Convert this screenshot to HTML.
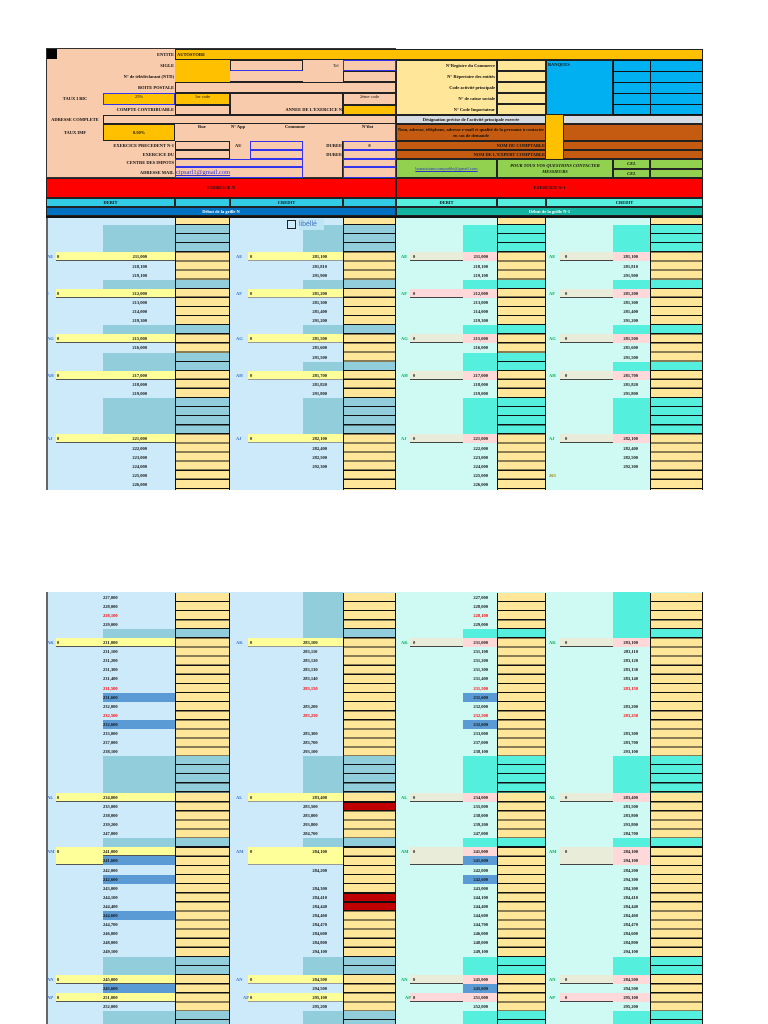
<!DOCTYPE html>
<html><head><meta charset="utf-8"><style>
body{margin:0;background:#fff}
#p{position:relative;width:768px;height:1024px;overflow:hidden;font-family:"Liberation Serif",serif;font-weight:bold;font-size:4.5px;color:#111}
.a{position:absolute;box-sizing:border-box}
.bx{border:1px solid #222}
.bb{border:1px solid #3333ee}
.r{position:absolute;left:0;width:768px;height:9.1px;line-height:9.1px}
.r>*{position:absolute;top:0;height:9.1px;font-style:normal;box-sizing:border-box}
.o{background:repeating-linear-gradient(#ffe699 0 7.9px,#111 7.9px 9.1px);border-left:1.5px solid #111;border-right:1.5px solid #111}
.n1{left:100px;width:47px;text-align:right}
.n2{left:290px;width:37px;text-align:right}
.n3{left:450px;width:38px;text-align:right}
.n4{left:600px;width:38px;text-align:right}
.m1{left:103px}.m2{left:303px}
.L1{left:47px;color:#4472c4}.z1{left:57px}
.L2{left:236px;color:#4472c4}.z2{left:250px}
.L3{left:401px;color:#00b050}.z3{left:413px}
.L4{left:549px;color:#00b050}.z4{left:565px}
.Y1{left:56px;width:119px;background:#ffff99;border-bottom:1px solid #555}
.Y2{left:248px;width:95px;background:#ffff99;border-bottom:1px solid #999}
.B3{left:410px;width:53px;background:#e8ecd8;border-bottom:1px solid #444}
.P3{left:463px;width:34px;background:#ffd9d9}
.B4{left:560px;width:53px;background:#e8ecd8;border-bottom:1px solid #444}
.P4{left:613px;width:37px;background:#ffd9d9}
.g1,.g2{background:#92cddc}
.t1,.t2{background:#55f0dd}
.g1{left:103px;width:72px}.g2{left:303px;width:40px}
.t1{left:463px;width:34px}.t2{left:613px;width:37px}
.g1::after,.g2::after,.t1::after,.t2::after{content:"";position:absolute;top:0;height:100%;box-sizing:border-box;border-left:1.5px solid #111;border-right:1.5px solid #111}
.g1::after,.g2::after{background:repeating-linear-gradient(#92cddc 0 7.9px,#111 7.9px 9.1px)}
.t1::after,.t2::after{background:repeating-linear-gradient(#55f0dd 0 7.9px,#111 7.9px 9.1px)}
.g1::after{left:72px;width:55px}.g2::after{left:40px;width:53px}
.t1::after{left:34px;width:49px}.t2::after{left:37px;width:53px}
.bl{left:103px;width:72px;background:#5b9bd5}
.bl3{left:463px;width:34px;background:#5b9bd5}
.rd{left:343px;width:53px;background:#c00000;border:1px solid #111}
.red{color:#f00}
.c{text-align:center}.rt{text-align:right}
</style></head><body><div id="p">

<!-- HEADER LEFT -->
<div class="a" style="left:46px;top:48px;width:350px;height:130px;background:#f8cbad;border:1px solid #333"></div>
<div class="a" style="left:47px;top:49px;width:10px;height:10px;background:#000"></div>
<div class="a rt" style="left:60px;top:49px;width:114px;line-height:11px">ENTITE</div>
<div class="a bx" style="left:175px;top:49px;width:528px;height:11px;background:#ffc000;line-height:10px;padding-left:1px">AUTOSTORE</div>
<div class="a rt" style="left:60px;top:60px;width:114px;line-height:11px">SIGLE</div>
<div class="a" style="left:175px;top:60px;width:55px;height:22px;background:#ffc000"></div>
<div class="a bx" style="left:230px;top:60px;width:73px;height:11px;border-bottom-color:#33e"></div>
<div class="a" style="left:333px;top:60px;line-height:11px;font-weight:normal">Tel</div>
<div class="a bb" style="left:343px;top:60px;width:53px;height:11px"></div>
<div class="a rt" style="left:60px;top:71px;width:114px;line-height:11px">N° de télédéclarant (NTD)</div>
<div class="a bx" style="left:230px;top:71px;width:73px;height:11px;border-width:0 0 1px 0"></div>
<div class="a bx" style="left:343px;top:71px;width:53px;height:11px"></div>
<div class="a rt" style="left:60px;top:82px;width:114px;line-height:11px">BOITE POSTALE</div>
<div class="a bx" style="left:175px;top:82px;width:221px;height:11px"></div>
<div class="a c" style="left:47px;top:93px;width:56px;line-height:12px">TAUX I BIC</div>
<div class="a bb c" style="left:103px;top:93px;width:72px;height:12px;background:#ffc000;font-weight:normal">25%</div>
<div class="a bx c" style="left:175px;top:93px;width:55px;height:12px;background:#ffc000;font-weight:normal">1er code</div>
<div class="a bx" style="left:230px;top:93px;width:113px;height:22px"></div>
<div class="a bx c" style="left:343px;top:93px;width:53px;height:12px;font-weight:normal">2ème code</div>
<div class="a rt" style="left:60px;top:105px;width:114px;line-height:10px">COMPTE CONTRIBUABLE</div>
<div class="a bx" style="left:175px;top:105px;width:55px;height:10px"></div>
<div class="a rt" style="left:240px;top:105px;width:102px;line-height:10px">ANNEE DE L'EXERCICE N</div>
<div class="a bx" style="left:343px;top:105px;width:53px;height:10px;background:#ffc000"></div>
<div class="a c" style="left:47px;top:115px;width:56px;line-height:9px">ADRESSE COMPLETE</div>
<div class="a bx" style="left:103px;top:115px;width:293px;height:9px"></div>
<div class="a c" style="left:47px;top:124px;width:56px;line-height:17px">TAUX IMF</div>
<div class="a bx c" style="left:103px;top:124px;width:72px;height:17px;background:#ffc000;line-height:15px">0.50%</div>
<div class="a" style="left:198px;top:124px">Rue</div>
<div class="a" style="left:231px;top:124px">N° App</div>
<div class="a" style="left:285px;top:124px">Commune</div>
<div class="a" style="left:362px;top:124px">N°ilot</div>
<div class="a rt" style="left:60px;top:141px;width:114px;line-height:9px">EXERCICE PRECEDENT N-1</div>
<div class="a bx" style="left:175px;top:141px;width:55px;height:9px"></div>
<div class="a" style="left:235px;top:141px;line-height:9px">AU</div>
<div class="a bb" style="left:250px;top:141px;width:53px;height:9px"></div>
<div class="a rt" style="left:300px;top:141px;width:42px;line-height:9px">DUREE</div>
<div class="a bb c" style="left:343px;top:141px;width:53px;height:9px;line-height:7px">0</div>
<div class="a rt" style="left:60px;top:150px;width:114px;line-height:9px">EXERCICE DU</div>
<div class="a bx" style="left:175px;top:150px;width:55px;height:9px"></div>
<div class="a bb" style="left:250px;top:150px;width:53px;height:9px"></div>
<div class="a rt" style="left:300px;top:150px;width:42px;line-height:9px">DUREE</div>
<div class="a bb" style="left:343px;top:150px;width:53px;height:9px"></div>
<div class="a rt" style="left:60px;top:159px;width:114px;line-height:8px">CENTRE DES IMPOTS</div>
<div class="a bb" style="left:175px;top:159px;width:128px;height:8px"></div>
<div class="a bb" style="left:343px;top:159px;width:53px;height:8px"></div>
<div class="a rt" style="left:60px;top:167px;width:114px;line-height:11px">ADRESSE MAIL</div>
<div class="a bb" style="left:175px;top:167px;width:128px;height:11px;font-family:'Liberation Serif',serif;font-weight:normal;font-size:6.5px;color:#3333cc;line-height:9px"><u>cipsarl1@gmail.com</u></div>
<div class="a bb" style="left:343px;top:167px;width:53px;height:11px"></div>
<div class="a bx" style="left:303px;top:141px;width:40px;height:37px;border-width:0 1px 0 0"></div>

<!-- HEADER RIGHT -->
<div class="a bx" style="left:396px;top:60px;width:101px;height:55px;background:#ffe699"></div>
<div class="a rt" style="left:398px;top:60px;width:97px;line-height:11px">N°Registre du Commerce</div>
<div class="a rt" style="left:398px;top:71px;width:97px;line-height:11px">N° Répertoire des entités</div>
<div class="a rt" style="left:398px;top:82px;width:97px;line-height:11px">Code activité principale</div>
<div class="a rt" style="left:398px;top:93px;width:97px;line-height:11px">N° de caisse sociale</div>
<div class="a rt" style="left:398px;top:104px;width:97px;line-height:11px">N° Code Importateur</div>
<div class="a bx" style="left:497px;top:60px;width:49px;height:11px;background:#ffe699"></div>
<div class="a bx" style="left:497px;top:71px;width:49px;height:11px;background:#ffe699"></div>
<div class="a bx" style="left:497px;top:82px;width:49px;height:11px;background:#ffe699"></div>
<div class="a bx" style="left:497px;top:93px;width:49px;height:11px;background:#ffe699"></div>
<div class="a bx" style="left:497px;top:104px;width:49px;height:11px;background:#ffe699"></div>
<div class="a bx" style="left:546px;top:60px;width:67px;height:55px;background:#00b0f0;padding:1px">BANQUES</div>
<div class="a" style="left:613px;top:60px;width:90px;height:55px;background:repeating-linear-gradient(#00b0f0 0 10px,#111 10px 11px);border:1px solid #111"></div>
<div class="a" style="left:650px;top:60px;width:1px;height:55px;background:#111"></div>
<div class="a bx c" style="left:396px;top:115px;width:150px;height:9px;background:#d6dce4;line-height:8px">Désignation précise de l'activité principale exercée</div>
<div class="a" style="left:546px;top:115px;width:17px;height:44px;background:#ffc000"></div>
<div class="a bx" style="left:563px;top:115px;width:140px;height:9px;background:#d6dce4"></div>
<div class="a bx c" style="left:396px;top:124px;width:150px;height:17px;background:#c55a11;line-height:6px;padding-top:2px">Nom, adresse, téléphone, adresse e-mail et qualité de la personne à contacter en cas de demande</div>
<div class="a bx" style="left:563px;top:124px;width:140px;height:17px;background:#c55a11"></div>
<div class="a bx rt" style="left:396px;top:141px;width:150px;height:9px;background:#c55a11;line-height:8px">NOM DU COMPTABLE</div>
<div class="a bx" style="left:563px;top:141px;width:140px;height:9px;background:#c55a11"></div>
<div class="a bx rt" style="left:396px;top:150px;width:150px;height:9px;background:#c55a11;line-height:8px">NOM DE L'EXPERT COMPTABLE</div>
<div class="a bx" style="left:563px;top:150px;width:140px;height:9px;background:#c55a11"></div>
<div class="a bx c" style="left:396px;top:159px;width:101px;height:19px;background:#92d050;font-weight:normal;color:#3333cc;line-height:17px"><u>bonasistantcomptable@gmail.com</u></div>
<div class="a bx c" style="left:497px;top:159px;width:116px;height:19px;background:#92d050;font-style:italic;line-height:6px;padding-top:3px">POUR TOUS VOS QUESTIONS CONTACTER MESSIEURS</div>
<div class="a bx c" style="left:613px;top:159px;width:37px;height:10px;background:#92d050;font-style:italic;line-height:8px">CEL</div>
<div class="a bx c" style="left:613px;top:169px;width:37px;height:9px;background:#92d050;font-style:italic;line-height:8px">CEL</div>
<div class="a bx" style="left:650px;top:159px;width:53px;height:10px;background:#92d050"></div>
<div class="a bx" style="left:650px;top:169px;width:53px;height:9px;background:#92d050"></div>

<div class="a bx c" style="left:46px;top:178px;width:350px;height:20px;background:#f00;line-height:18px">EXERCICE N</div>
<div class="a bx c" style="left:396px;top:178px;width:307px;height:20px;background:#f00;line-height:18px">EXERCICE N-1</div>
<div class="a bx c" style="left:46px;top:198px;width:129px;height:9px;background:#33cce6;line-height:8px">DEBIT</div>
<div class="a bx" style="left:175px;top:198px;width:55px;height:9px;background:#33cce6"></div>
<div class="a bx c" style="left:230px;top:198px;width:113px;height:9px;background:#33cce6;line-height:8px">CREDIT</div>
<div class="a bx" style="left:343px;top:198px;width:53px;height:9px;background:#33cce6"></div>
<div class="a bx c" style="left:396px;top:198px;width:101px;height:9px;background:#55f0e0;line-height:8px">DEBIT</div>
<div class="a bx" style="left:497px;top:198px;width:49px;height:9px;background:#55f0e0"></div>
<div class="a bx c" style="left:546px;top:198px;width:157px;height:9px;background:#55f0e0;line-height:8px">CREDIT</div>
<div class="a bx c" style="left:46px;top:207px;width:350px;height:9px;background:#0070c0;color:#fff;line-height:8px">Début de la grille N</div>
<div class="a bx c" style="left:396px;top:207px;width:307px;height:9px;background:#12b3a0;color:#fff;line-height:8px">Début de la grille N-1</div>

<!-- PAGE 1 GRID BACKGROUND -->
<div class="a" style="left:46px;top:216px;width:350px;height:274px;background:#cdeafb;border-left:2px solid #666"></div>
<div class="a" style="left:396px;top:216px;width:307px;height:274px;background:#cffaf3;border-right:1px solid #444"></div>
<div class="a o" style="left:175px;top:216px;width:55px;height:274px"></div>
<div class="a o" style="left:343px;top:216px;width:53px;height:274px"></div>
<div class="a o" style="left:497px;top:216px;width:49px;height:274px"></div>
<div class="a o" style="left:650px;top:216px;width:53px;height:274px"></div>
<div class="a" style="left:46px;top:216px;width:657px;height:1.5px;background:#111"></div>

<!-- page1 gray rows -->
<div class="r" style="top:225.1px;height:27.3px"><i class="g1" style="height:27.3px"></i><i class="g2" style="height:27.3px"></i><i class="t1" style="height:27.3px"></i><i class="t2" style="height:27.3px"></i></div>
<div class="r" style="top:279.7px"><i class="g1"></i><i class="g2"></i><i class="t1"></i><i class="t2"></i></div>
<div class="r" style="top:325.2px"><i class="g1"></i><i class="g2"></i><i class="t1"></i><i class="t2"></i></div>
<div class="r" style="top:352.5px;height:18.2px"><i class="g1" style="height:18.2px"></i><i class="g2" style="top:9.1px"></i><i class="t1" style="height:18.2px"></i><i class="t2" style="top:9.1px"></i></div>
<div class="r" style="top:398px;height:36.4px"><i class="g1" style="height:36.4px"></i><i class="g2" style="height:36.4px"></i><i class="t1" style="height:36.4px"></i><i class="t2" style="height:36.4px"></i></div>
<div class="a bx" style="left:287px;top:220px;width:9px;height:9px;border-color:#222;border-width:1.5px"></div>
<div class="a" style="left:299px;top:219px;width:25px;height:11px;background:#bde6f4;font-family:'Liberation Sans',sans-serif;font-weight:normal;font-size:7px;color:#4472c4;line-height:11px">libéllé</div>

<!-- page1 rows -->
<div class="r" style="top:252.4px"><i class="Y1"></i><i class="Y2"></i><i class="B3"></i><i class="P3"></i><i class="B4"></i><i class="P4"></i><span class="L1">AE</span><span class="z1">0</span><span class="n1">211,000</span><span class="L2">AE</span><span class="z2">0</span><span class="n2">281,100</span><span class="L3">AE</span><span class="z3">0</span><span class="n3">211,000</span><span class="L4">AE</span><span class="z4">0</span><span class="n4">281,100</span></div>
<div class="r" style="top:261.5px"><span class="n1">218,100</span><span class="n2">281,810</span><span class="n3">218,100</span><span class="n4">281,810</span></div>
<div class="r" style="top:270.6px"><span class="n1">219,100</span><span class="n2">291,900</span><span class="n3">219,100</span><span class="n4">291,900</span></div>
<div class="r" style="top:288.8px"><i class="Y1"></i><i class="Y2"></i><i class="B3" style="background:#ffd9d9"></i><i class="P3"></i><i class="B4"></i><i class="P4"></i><span class="L1">I</span><span class="z1">0</span><span class="n1">212,000</span><span class="L2">AF</span><span class="z2">0</span><span class="n2">281,200</span><span class="L3">AF</span><span class="z3">0</span><span class="n3">212,000</span><span class="L4">AF</span><span class="z4">0</span><span class="n4">281,200</span></div>
<div class="r" style="top:297.9px"><span class="n1">213,000</span><span class="n2">281,300</span><span class="n3">213,000</span><span class="n4">281,300</span></div>
<div class="r" style="top:307px"><span class="n1">214,000</span><span class="n2">281,400</span><span class="n3">214,000</span><span class="n4">281,400</span></div>
<div class="r" style="top:316.1px"><span class="n1">219,300</span><span class="n2">291,200</span><span class="n3">219,300</span><span class="n4">291,200</span></div>
<div class="r" style="top:334.3px"><i class="Y1"></i><i class="Y2"></i><i class="B3"></i><i class="P3"></i><i class="B4"></i><i class="P4"></i><span class="L1">AG</span><span class="z1">0</span><span class="n1">215,000</span><span class="L2">AG</span><span class="z2">0</span><span class="n2">281,500</span><span class="L3">AG</span><span class="z3">0</span><span class="n3">215,000</span><span class="L4">AG</span><span class="z4">0</span><span class="n4">281,500</span></div>
<div class="r" style="top:343.4px"><span class="n1">216,000</span><span class="n2">281,600</span><span class="n3">216,000</span><span class="n4">281,600</span></div>
<div class="r" style="top:352.5px"><span class="n2">291,500</span><span class="n4">291,500</span></div>
<div class="r" style="top:370.7px"><i class="Y1"></i><i class="Y2"></i><i class="B3"></i><i class="P3"></i><i class="B4"></i><i class="P4"></i><span class="L1">AH</span><span class="z1">0</span><span class="n1">217,000</span><span class="L2">AH</span><span class="z2">0</span><span class="n2">281,700</span><span class="L3">AH</span><span class="z3">0</span><span class="n3">217,000</span><span class="L4">AH</span><span class="z4">0</span><span class="n4">281,700</span></div>
<div class="r" style="top:379.8px"><span class="n1">218,000</span><span class="n2">281,820</span><span class="n3">218,000</span><span class="n4">281,820</span></div>
<div class="r" style="top:388.9px"><span class="n1">219,000</span><span class="n2">291,800</span><span class="n3">219,000</span><span class="n4">291,800</span></div>
<div class="r" style="top:434.4px"><i class="Y1"></i><i class="Y2"></i><i class="B3"></i><i class="P3"></i><i class="B4"></i><i class="P4"></i><span class="L1">AJ</span><span class="z1">0</span><span class="n1">221,000</span><span class="L2">AJ</span><span class="z2">0</span><span class="n2">282,100</span><span class="L3">AJ</span><span class="z3">0</span><span class="n3">221,000</span><span class="L4">AJ</span><span class="z4">0</span><span class="n4">282,100</span></div>
<div class="r" style="top:443.5px"><span class="n1">222,000</span><span class="n2">282,400</span><span class="n3">222,000</span><span class="n4">282,400</span></div>
<div class="r" style="top:452.6px"><span class="n1">223,000</span><span class="n2">282,500</span><span class="n3">223,000</span><span class="n4">282,500</span></div>
<div class="r" style="top:461.7px"><span class="n1">224,000</span><span class="n2">292,300</span><span class="n3">224,000</span><span class="n4">292,300</span></div>
<div class="r" style="top:470.8px"><span class="n1">225,000</span><span class="n3">225,000</span><span class="L4" style="color:#a08000">263</span></div>
<div class="r" style="top:479.9px"><span class="n1">226,000</span><span class="n3">226,000</span></div>

<!-- PAGE 2 GRID BACKGROUND -->
<div class="a" style="left:46px;top:592px;width:350px;height:432px;background:#cdeafb;border-left:2px solid #666"></div>
<div class="a" style="left:396px;top:592px;width:307px;height:432px;background:#cffaf3;border-right:1px solid #444"></div>
<div class="a o" style="left:175px;top:592.5px;width:55px;height:432px"></div>
<div class="a o" style="left:343px;top:592.5px;width:53px;height:432px"></div>
<div class="a o" style="left:497px;top:592.5px;width:49px;height:432px"></div>
<div class="a o" style="left:650px;top:592.5px;width:53px;height:432px"></div>
<div class="a" style="left:303px;top:592px;width:40px;height:37px;background:#92cddc"></div>
<div class="a" style="left:613px;top:592px;width:37px;height:37px;background:#55f0dd"></div>

<div class="r" style="top:628.9px"><i class="g1"></i><i class="g2"></i><i class="t1"></i><i class="t2"></i></div>
<div class="r" style="top:756.3px;height:36.4px"><i class="g1" style="height:36.4px"></i><i class="g2" style="height:36.4px"></i><i class="t1" style="height:36.4px"></i><i class="t2" style="height:36.4px"></i></div>
<div class="r" style="top:838.2px"><i class="g1"></i><i class="g2"></i><i class="t1"></i><i class="t2"></i></div>
<div class="r" style="top:956.5px;height:18.2px"><i class="g1" style="height:18.2px"></i><i class="g2" style="height:18.2px"></i><i class="t1" style="height:18.2px"></i><i class="t2" style="height:18.2px"></i></div>
<div class="r" style="top:1011.1px;height:18.2px"><i class="g1" style="height:18.2px"></i><i class="g2" style="height:18.2px"></i><i class="t1" style="height:18.2px"></i><i class="t2" style="height:18.2px"></i></div>

<div class="r" style="top:592.5px"><span class="m1">227,000</span><span class="n3">227,000</span></div>
<div class="r" style="top:601.6px"><span class="m1">228,000</span><span class="n3">228,000</span></div>
<div class="r" style="top:610.7px"><span class="m1 red">228,100</span><span class="n3 red">228,100</span></div>
<div class="r" style="top:619.8px"><span class="m1">229,000</span><span class="n3">229,000</span></div>
<div class="r" style="top:638px"><i class="Y1"></i><i class="Y2"></i><i class="B3"></i><i class="P3"></i><i class="B4"></i><i class="P4"></i><span class="L1">AK</span><span class="z1">0</span><span class="m1">231,000</span><span class="L2">AK</span><span class="z2">0</span><span class="m2">283,100</span><span class="L3">AK</span><span class="z3">0</span><span class="n3">231,000</span><span class="L4">AK</span><span class="z4">0</span><span class="n4">283,100</span></div>
<div class="r" style="top:647.1px"><span class="m1">231,100</span><span class="m2">283,110</span><span class="n3">231,100</span><span class="n4">283,110</span></div>
<div class="r" style="top:656.2px"><span class="m1">231,200</span><span class="m2">283,120</span><span class="n3">231,200</span><span class="n4">283,120</span></div>
<div class="r" style="top:665.3px"><span class="m1">231,300</span><span class="m2">283,130</span><span class="n3">231,300</span><span class="n4">283,130</span></div>
<div class="r" style="top:674.4px"><span class="m1">231,400</span><span class="m2">283,140</span><span class="n3">231,400</span><span class="n4">283,140</span></div>
<div class="r" style="top:683.5px"><span class="m1 red">231,500</span><span class="m2 red">283,150</span><span class="n3 red">231,500</span><span class="n4 red">283,150</span></div>
<div class="r" style="top:692.6px"><i class="bl"></i><i class="bl3"></i><span class="m1">231,600</span><span class="n3">231,600</span></div>
<div class="r" style="top:701.7px"><span class="m1">232,000</span><span class="m2">283,200</span><span class="n3">232,000</span><span class="n4">283,200</span></div>
<div class="r" style="top:710.8px"><span class="m1 red">232,500</span><span class="m2 red">283,250</span><span class="n3 red">232,500</span><span class="n4 red">283,250</span></div>
<div class="r" style="top:719.9px"><i class="bl"></i><i class="bl3"></i><span class="m1">232,600</span><span class="n3">232,600</span></div>
<div class="r" style="top:729px"><span class="m1">233,000</span><span class="m2">283,300</span><span class="n3">233,000</span><span class="n4">283,300</span></div>
<div class="r" style="top:738.1px"><span class="m1">237,000</span><span class="m2">283,700</span><span class="n3">237,000</span><span class="n4">283,700</span></div>
<div class="r" style="top:747.2px"><span class="m1">238,100</span><span class="m2">293,100</span><span class="n3">238,100</span><span class="n4">293,100</span></div>
<div class="r" style="top:792.7px"><i class="Y1"></i><i class="Y2"></i><i class="B3"></i><i class="P3"></i><i class="B4"></i><i class="P4"></i><span class="L1">AL</span><span class="z1">0</span><span class="m1">234,000</span><span class="L2">AL</span><span class="z2">0</span><span class="n2">283,400</span><span class="L3">AL</span><span class="z3">0</span><span class="n3">234,000</span><span class="L4">AL</span><span class="z4">0</span><span class="n4">283,400</span></div>
<div class="r" style="top:801.8px"><i class="rd"></i><span class="m1">235,000</span><span class="m2">283,500</span><span class="n3">235,000</span><span class="n4">283,500</span></div>
<div class="r" style="top:810.9px"><span class="m1">238,000</span><span class="m2">283,800</span><span class="n3">238,000</span><span class="n4">283,800</span></div>
<div class="r" style="top:820px"><span class="m1">239,200</span><span class="m2">293,800</span><span class="n3">239,200</span><span class="n4">293,800</span></div>
<div class="r" style="top:829.1px"><span class="m1">247,000</span><span class="m2">284,700</span><span class="n3">247,000</span><span class="n4">284,700</span></div>
<div class="r" style="top:847.3px;height:18.2px"><i class="Y1" style="width:47px;left:56px;height:18.2px"></i><i class="Y1" style="left:103px;width:72px"></i><i class="Y2" style="height:18.2px"></i><i class="B3" style="height:18.2px"></i><i class="P3"></i><i class="B4" style="height:18.2px"></i><i class="P4" style="height:18.2px"></i><span class="L1">AM</span><span class="z1">0</span><span class="m1">241,000</span><span class="L2">AM</span><span class="z2">0</span><span class="n2">284,100</span><span class="L3">AM</span><span class="z3">0</span><span class="n3">241,000</span><span class="L4">AM</span><span class="z4">0</span><span class="n4">284,100</span></div>
<div class="r" style="top:856.4px"><i class="bl"></i><i class="bl3"></i><span class="m1">241,600</span><span class="n3">241,600</span><span class="n4">294,100</span></div>
<div class="r" style="top:865.5px"><span class="m1">242,000</span><span class="n2">284,200</span><span class="n3">242,000</span><span class="n4">284,200</span></div>
<div class="r" style="top:874.6px"><i class="bl"></i><i class="bl3"></i><span class="m1">242,600</span><span class="n3">242,600</span><span class="n4">294,300</span></div>
<div class="r" style="top:883.7px"><span class="m1">243,000</span><span class="n2">284,300</span><span class="n3">243,000</span><span class="n4">284,300</span></div>
<div class="r" style="top:892.8px"><i class="rd"></i><span class="m1">244,100</span><span class="n2">284,410</span><span class="n3">244,100</span><span class="n4">284,410</span></div>
<div class="r" style="top:901.9px"><i class="rd"></i><span class="m1">244,400</span><span class="n2">284,440</span><span class="n3">244,400</span><span class="n4">284,440</span></div>
<div class="r" style="top:911px"><i class="bl"></i><span class="m1">244,600</span><span class="n2">284,460</span><span class="n3">244,600</span><span class="n4">284,460</span></div>
<div class="r" style="top:920.1px"><span class="m1">244,700</span><span class="n2">284,470</span><span class="n3">244,700</span><span class="n4">284,470</span></div>
<div class="r" style="top:929.2px"><span class="m1">246,000</span><span class="n2">284,600</span><span class="n3">246,000</span><span class="n4">284,600</span></div>
<div class="r" style="top:938.3px"><span class="m1">248,000</span><span class="n2">284,800</span><span class="n3">248,000</span><span class="n4">284,800</span></div>
<div class="r" style="top:947.4px"><span class="m1">249,100</span><span class="n2">294,100</span><span class="n3">249,100</span><span class="n4">294,100</span></div>
<div class="r" style="top:974.7px"><i class="Y1"></i><i class="Y2"></i><i class="B3"></i><i class="P3"></i><i class="B4"></i><i class="P4"></i><span class="L1">AN</span><span class="z1">0</span><span class="m1">245,000</span><span class="L2">AN</span><span class="z2">0</span><span class="n2">284,500</span><span class="L3">AN</span><span class="z3">0</span><span class="n3">245,000</span><span class="L4">AN</span><span class="z4">0</span><span class="n4">284,500</span></div>
<div class="r" style="top:983.8px"><i class="bl"></i><i class="bl3"></i><span class="m1">245,600</span><span class="n2">294,500</span><span class="n3">245,600</span><span class="n4">294,500</span></div>
<div class="r" style="top:992.9px"><i class="Y1"></i><i class="Y2"></i><i class="B3" style="background:#ffd9d9"></i><i class="P3"></i><i class="B4" style="background:#ffd9d9"></i><i class="P4"></i><span class="L1">AP</span><span class="z1">0</span><span class="m1">251,000</span><span class="L2" style="left:243px">AP</span><span class="z2">0</span><span class="n2">295,100</span><span class="L3" style="left:405px">AP</span><span class="z3">0</span><span class="n3">251,000</span><span class="L4">AP</span><span class="z4">0</span><span class="n4">295,100</span></div>
<div class="r" style="top:1002px"><span class="m1">252,000</span><span class="n2">295,200</span><span class="n3">252,000</span><span class="n4">295,200</span></div>

</div></body></html>
